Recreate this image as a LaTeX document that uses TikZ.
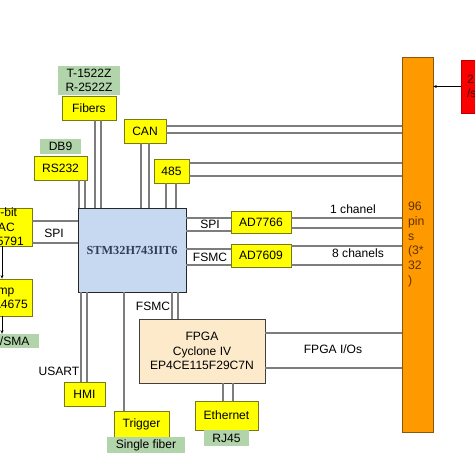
\documentclass[tikz,border=0pt]{standalone}
\usepackage{fontspec}
\setmainfont{Liberation Sans}
\newfontfamily\seriffont{Liberation Serif}
\usetikzlibrary{arrows.meta}

\definecolor{jaune}{RGB}{255, 255, 0}
\definecolor{olive}{RGB}{120, 120, 20}
\definecolor{vert}{RGB}{178, 212, 170}
\definecolor{bleuciel}{RGB}{198, 217, 240}
\definecolor{peche}{RGB}{252, 234, 202}
\definecolor{orangevif}{RGB}{255, 153, 0}
\definecolor{brun}{RGB}{140, 85, 10}
\definecolor{chocolat}{RGB}{95, 50, 0}
\definecolor{rouge}{RGB}{250, 0, 0}
\definecolor{gris}{RGB}{125, 125, 125}
\definecolor{ardoise}{RGB}{50, 62, 88}

\begin{document}
\begin{tikzpicture}[x=0.03cm, y=-0.03cm,
  font=\fontsize{10.3}{12.4}\selectfont,
  sz/.style 2 args={minimum width=#1*0.03cm, minimum height=#2*0.03cm,
    inner sep=0pt, align=center},
  ybox/.style={draw=olive, fill=jaune, line width=0.6pt},
  gbox/.style={fill=vert},
  bus/.style={draw=gris, line width=0.9pt},
  arr/.style={-{Stealth[length=3pt, width=2.5pt]}, line width=0.5pt}]
  \useasboundingbox (0, 0) rectangle (474, 474);

  % top peripherals
  \node[gbox, sz={62}{29}] (fibref) at (89, 80.5) {T-1522Z\\R-2522Z};
  \node[ybox, sz={54}{24}] (fibers) at (89, 108) {Fibers};
  \node[ybox, sz={42}{24}] (can) at (145, 131) {CAN};
  \node[gbox, sz={41}{15}] (db9) at (60.5, 146.5) {DB9};
  \node[ybox, sz={53}{24}] (rs232) at (60.5, 168) {RS232};
  \node[ybox, sz={35}{24}] (r485) at (171.5, 171) {485};

  % MCU and ADCs
  \node[draw=black!85, fill=bleuciel, line width=0.8pt, sz={108}{84},
    font=\seriffont\bfseries\fontsize{10.5}{12}\selectfont, text=ardoise]
    (stm) at (132, 250) {STM32H743IIT6};
  \node[ybox, sz={60}{22}] (ad7766) at (261, 222) {AD7766};
  \node[ybox, sz={60}{23}] (ad7609) at (261, 255.5) {AD7609};

  % connector bar and red box
  \node[draw=brun, fill=orangevif, minimum width=31*0.03cm,
    minimum height=375*0.03cm, inner xsep=6*0.03cm, inner ysep=0pt,
    text width=19*0.03cm, align=left, text=chocolat,
    font=\fontsize{10.5}{12.5}\selectfont]
    (pins) at (417.5, 244.5) {96\\pin\\s\\(3*\\32\\)};
  \node[draw=rouge!75!black, fill=rouge, minimum width=60*0.03cm,
    minimum height=53*0.03cm, inner xsep=6*0.03cm, text width=48*0.03cm,
    align=left, text=black!70!red] (red) at (491, 86.5) {2\\/s};

  % left side
  \node[ybox, sz={60}{36}] (dac) at (2, 227) {20-bit\\DAC\\AD5791};
  \node[ybox, sz={60}{37}] (amp) at (2, 297.5) {Amp\\ADA4675};
  \node[gbox, sz={74}{14}] (sma) at (2, 341) {BNC/SMA};

  % bottom
  \node[ybox, sz={41}{24}] (hmi) at (84.5, 394) {HMI};
  \node[ybox, sz={55}{26}] (trigger) at (141.5, 424) {Trigger};
  \node[gbox, sz={78}{16}] (single) at (146, 445) {Single fiber};
  \node[draw=black!75, fill=peche, line width=0.8pt, sz={126}{64},
    font=\fontsize{10.3}{12.3}\selectfont]
    (fpga) at (202, 351) {FPGA\\Cyclone IV\\EP4CE115F29C7N};
  \node[ybox, sz={63}{29}] (eth) at (226.5, 415.5) {Ethernet};
  \node[gbox, sz={45}{16}] (rj45) at (226.5, 438) {RJ45};

  % vertical buses
  \foreach \x in {79, 85}
    \draw[bus] (\x, 0 |- rs232.south) -- (\x, 0 |- stm.north);
  \foreach \x in {95, 101}
    \draw[bus] (\x, 0 |- fibers.south) -- (\x, 0 |- stm.north);
  \foreach \x in {141, 149}
    \draw[bus] (\x, 0 |- can.south) -- (\x, 0 |- stm.north);
  \foreach \x in {166, 176}
    \draw[bus] (\x, 0 |- r485.south) -- (\x, 0 |- stm.north);
  \foreach \x in {81, 87}
    \draw[bus] (\x, 0 |- stm.south) -- (\x, 0 |- hmi.north);
  \draw[bus] (124, 0 |- stm.south) -- (124, 0 |- trigger.north);
  \foreach \x in {172, 178}
    \draw[bus] (\x, 0 |- stm.south) -- (\x, 0 |- fpga.north);
  \foreach \x in {223, 233}
    \draw[bus] (\x, 0 |- fpga.south) -- (\x, 0 |- eth.north);

  % horizontal buses
  \foreach \y in {126, 133}
    \draw[bus] (can.east |- 0, \y) -- (pins.west |- 0, \y);
  \foreach \y in {163, 176}
    \draw[bus] (r485.east |- 0, \y) -- (pins.west |- 0, \y);
  \foreach \y in {221, 243}
    \draw[bus] (dac.east |- 0, \y) -- (stm.west |- 0, \y);
  \foreach \y in {218, 231}
    \draw[bus] (stm.east |- 0, \y) -- (ad7766.west |- 0, \y);
  \foreach \y in {249, 265}
    \draw[bus] (stm.east |- 0, \y) -- (ad7609.west |- 0, \y);
  \foreach \y in {218, 228}
    \draw[bus] (ad7766.east |- 0, \y) -- (pins.west |- 0, \y);
  \foreach \y in {246, 265}
    \draw[bus] (ad7609.east |- 0, \y) -- (pins.west |- 0, \y);
  \foreach \y in {333, 368}
    \draw[bus] (fpga.east |- 0, \y) -- (pins.west |- 0, \y);

  % arrows
  \draw[arr] (dac.south) -- (amp.north);
  \draw[arr] (amp.south) -- (sma.north);
  \draw[arr] (red.west) -- (red.west -| pins.east);

  % bus labels
  \node (lspidac) at (54, 233) {SPI};
  \node (lspiadc) at (210, 224) {SPI};
  \node (lfsmcadc) at (210, 257) {FSMC};
  \node (lchan1) at (353, 209) {1 chanel};
  \node (lchan8) at (358, 253) {8 chanels};
  \node (lfsmcfpga) at (153, 306) {FSMC};
  \node (lusart) at (59, 371) {USART};
  \node (lios) at (333, 349) {FPGA I/Os};
\end{tikzpicture}
\end{document}
